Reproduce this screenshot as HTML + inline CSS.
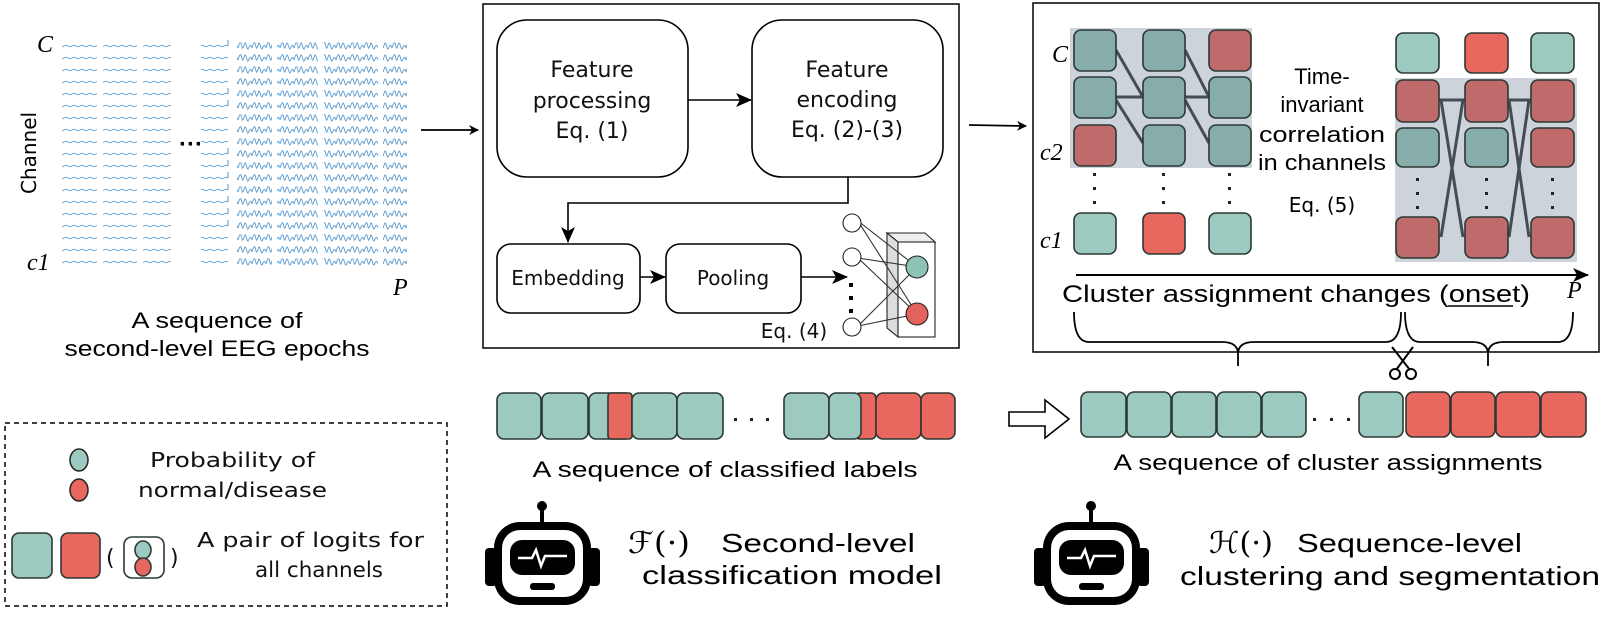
<!DOCTYPE html>
<html><head><meta charset="utf-8"><style>html,body{margin:0;padding:0;background:#fff}svg{display:block}</style></head>
<body>
<svg width="1604" height="617" viewBox="0 0 1604 617" xmlns="http://www.w3.org/2000/svg">
<defs>
<pattern id="q" patternUnits="userSpaceOnUse" x="0" y="40" width="8" height="12">
<path d="M0,6 Q2,4.8 4,6 T8,6" fill="none" stroke="#6aa8d8" stroke-width="1"/>
</pattern>
<pattern id="d" patternUnits="userSpaceOnUse" x="0" y="40" width="14" height="12">
<path d="M0,8 C2,1 3,1 4,7 C5,11 6,4 7,3 C8,2 9,10 10,9 C11,8 12,2 14,8" fill="none" stroke="#5b9bd0" stroke-width="0.9"/>
</pattern>
<marker id="ah" markerWidth="10" markerHeight="10" refX="9" refY="5" orient="auto" markerUnits="userSpaceOnUse">
<path d="M0,0 L10,5 L0,10 L3,5 Z" fill="#000"/>
</marker>
<marker id="ah2" markerWidth="16" markerHeight="14" refX="15" refY="7" orient="auto" markerUnits="userSpaceOnUse">
<path d="M0,0 L16,7 L0,14 L4,7 Z" fill="#000"/>
</marker>
</defs>

<g>
<rect x="62" y="40" width="35" height="228" fill="url(#q)"/>
<rect x="103" y="40" width="34" height="228" fill="url(#q)"/>
<rect x="143" y="40" width="28" height="228" fill="url(#q)"/>
<rect x="201" y="40" width="27" height="228" fill="url(#q)"/>
<rect x="237" y="40" width="35" height="228" fill="url(#d)"/>
<rect x="277" y="40" width="41" height="228" fill="url(#d)"/>
<rect x="324" y="40" width="54" height="228" fill="url(#d)"/>
<rect x="383" y="40" width="24" height="228" fill="url(#d)"/>
<path d="M228,46 v-6 M228,94 v-6 M228,106 v-6 M228,154 v-6 M228,166 v-6 M228,178 v-6 M228,190 v-6 M228,202 v-6 M228,214 v-6 M228,226 v-6" stroke="#6aa8d8" stroke-width="1.2"/>
<text x="179" y="152" font-family="Liberation Sans,sans-serif" font-size="24" font-weight="bold">···</text>
<text x="37" y="52" font-family="Liberation Serif,serif" font-style="italic" font-size="24">C</text>
<text x="27" y="270" font-family="Liberation Serif,serif" font-style="italic" font-size="24">c1</text>
<text x="393" y="295" font-family="Liberation Serif,serif" font-style="italic" font-size="24">P</text>
<text transform="translate(36,153) rotate(-90)" text-anchor="middle" font-family="DejaVu Sans,sans-serif" font-size="20">Channel</text>
<text x="217" y="328" text-anchor="middle" font-family="Liberation Sans,sans-serif" font-size="22" textLength="171" lengthAdjust="spacingAndGlyphs">A sequence of</text>
<text x="217" y="356" text-anchor="middle" font-family="Liberation Sans,sans-serif" font-size="22" textLength="305" lengthAdjust="spacingAndGlyphs">second-level EEG epochs</text>
</g>

<line x1="421" y1="130" x2="478" y2="130" stroke="#000" stroke-width="1.8" marker-end="url(#ah)"/>

<rect x="483" y="4" width="476" height="344" fill="none" stroke="#000" stroke-width="1.5"/>
<g font-family="DejaVu Sans,sans-serif" font-size="22" text-anchor="middle" fill="#111">
<rect x="497" y="20" width="191" height="157" rx="30" fill="#fff" stroke="#000" stroke-width="1.6"/>
<text x="592" y="77">Feature</text><text x="592" y="108">processing</text><text x="592" y="138">Eq. (1)</text>
<rect x="752" y="20" width="191" height="157" rx="30" fill="#fff" stroke="#000" stroke-width="1.6"/>
<text x="847" y="77">Feature</text><text x="847" y="107">encoding</text><text x="847" y="137">Eq. (2)-(3)</text>
<line x1="688" y1="100" x2="751" y2="100" stroke="#000" stroke-width="1.6" marker-end="url(#ah2)"/>
<path d="M848,177 V203 H568 V242" fill="none" stroke="#000" stroke-width="1.6" marker-end="url(#ah2)"/>
<rect x="497" y="244" width="143" height="69" rx="14" fill="#fff" stroke="#000" stroke-width="1.6"/>
<text x="568" y="285" font-size="20">Embedding</text>
<rect x="666" y="244" width="135" height="69" rx="14" fill="#fff" stroke="#000" stroke-width="1.6"/>
<text x="733" y="285" font-size="20">Pooling</text>
<line x1="640" y1="277" x2="665" y2="277" stroke="#000" stroke-width="1.6" marker-end="url(#ah2)"/>
<line x1="801" y1="277" x2="847" y2="277" stroke="#000" stroke-width="1.6" marker-end="url(#ah2)"/>
<text x="794" y="338" font-size="20">Eq. (4)</text>
</g>
<g stroke="#222" stroke-width="1.1">
<polygon points="887,233 925,233 935,242 898,242" fill="#eee"/>
<polygon points="887,233 898,242 898,337 887,328" fill="#ddd"/>
<rect x="898" y="242" width="37" height="95" fill="#fff"/>
<path d="M858,221 L917,267 M858,221 L917,314 M858,258 L917,267 M858,258 L917,314 M858,326 L917,267 M858,326 L917,314" fill="none" stroke="#333"/>
<circle cx="852" cy="223" r="9" fill="#fff"/>
<circle cx="852" cy="257" r="9" fill="#fff"/>
<circle cx="852" cy="327" r="9" fill="#fff"/>
<circle cx="917" cy="267" r="11" fill="#8fc2b7"/>
<circle cx="917" cy="314" r="11" fill="#e4625c"/>
</g>
<g fill="#000"><rect x="849" y="283" width="4" height="4"/><rect x="849" y="296" width="4" height="4"/><rect x="849" y="309" width="4" height="4"/></g>

<line x1="969" y1="125" x2="1026" y2="126" stroke="#000" stroke-width="1.8" marker-end="url(#ah)"/>

<rect x="1033" y="3" width="566" height="349" fill="none" stroke="#000" stroke-width="1.5"/>
<rect x="1070" y="28" width="182" height="140" fill="#cdd3da"/>
<rect x="1395" y="78" width="182" height="184" fill="#cdd3da"/>
<g stroke="#444c55" stroke-width="3" fill="none">
<path d="M1116,50 L1143,97 M1116,97 H1143 M1116,100 L1143,143 M1185,50 L1209,97 M1185,97 H1209 M1185,100 L1209,143"/>
<path d="M1439,100 H1465 M1508,100 H1531 M1441,100 L1463,237 M1441,237 L1463,100 M1509,100 L1529,237 M1509,237 L1529,100"/>
</g>
<g stroke="#2c3833" stroke-width="1.6">
<rect x="1074" y="30" width="42" height="41" rx="7" fill="#87adaa"/>
<rect x="1143" y="30" width="42" height="41" rx="7" fill="#87adaa"/>
<rect x="1209" y="30" width="42" height="41" rx="7" fill="#c06b6b"/>
<rect x="1074" y="77" width="42" height="41" rx="7" fill="#87adaa"/>
<rect x="1143" y="77" width="42" height="41" rx="7" fill="#87adaa"/>
<rect x="1209" y="77" width="42" height="41" rx="7" fill="#87adaa"/>
<rect x="1074" y="125" width="42" height="41" rx="7" fill="#c06b6b"/>
<rect x="1143" y="125" width="42" height="41" rx="7" fill="#87adaa"/>
<rect x="1209" y="125" width="42" height="41" rx="7" fill="#87adaa"/>
<rect x="1074" y="213" width="42" height="41" rx="7" fill="#9ccac1"/>
<rect x="1143" y="213" width="42" height="41" rx="7" fill="#e8675f"/>
<rect x="1209" y="213" width="42" height="41" rx="7" fill="#9ccac1"/>
<rect x="1396" y="33" width="43" height="40" rx="7" fill="#9ccac1"/>
<rect x="1465" y="33" width="43" height="40" rx="7" fill="#e8675f"/>
<rect x="1531" y="33" width="43" height="40" rx="7" fill="#9ccac1"/>
<rect x="1396" y="80" width="43" height="42" rx="7" fill="#c06b6b"/>
<rect x="1465" y="80" width="43" height="42" rx="7" fill="#c06b6b"/>
<rect x="1531" y="80" width="43" height="42" rx="7" fill="#c06b6b"/>
<rect x="1396" y="128" width="43" height="39" rx="7" fill="#87adaa"/>
<rect x="1465" y="128" width="43" height="39" rx="7" fill="#87adaa"/>
<rect x="1531" y="128" width="43" height="39" rx="7" fill="#c06b6b"/>
<rect x="1396" y="217" width="43" height="41" rx="7" fill="#c06b6b"/>
<rect x="1465" y="217" width="43" height="41" rx="7" fill="#c06b6b"/>
<rect x="1531" y="217" width="43" height="41" rx="7" fill="#c06b6b"/>
</g>
<g fill="#222">
<rect x="1093" y="173" width="3" height="3"/><rect x="1093" y="187" width="3" height="3"/><rect x="1093" y="201" width="3" height="3"/>
<rect x="1162" y="173" width="3" height="3"/><rect x="1162" y="187" width="3" height="3"/><rect x="1162" y="201" width="3" height="3"/>
<rect x="1228" y="173" width="3" height="3"/><rect x="1228" y="187" width="3" height="3"/><rect x="1228" y="201" width="3" height="3"/>
<rect x="1416" y="178" width="3" height="3"/><rect x="1416" y="192" width="3" height="3"/><rect x="1416" y="206" width="3" height="3"/>
<rect x="1485" y="178" width="3" height="3"/><rect x="1485" y="192" width="3" height="3"/><rect x="1485" y="206" width="3" height="3"/>
<rect x="1551" y="178" width="3" height="3"/><rect x="1551" y="192" width="3" height="3"/><rect x="1551" y="206" width="3" height="3"/>
</g>
<g font-family="Liberation Serif,serif" font-style="italic" font-size="24">
<text x="1052" y="62">C</text><text x="1040" y="160">c2</text><text x="1040" y="248">c1</text>
<text x="1567" y="298">P</text>
</g>
<g font-family="Liberation Sans,sans-serif" font-size="22" text-anchor="middle">
<text x="1322" y="84">Time-</text>
<text x="1322" y="112">invariant</text>
<text x="1322" y="142" textLength="126" lengthAdjust="spacingAndGlyphs">correlation</text>
<text x="1322" y="170" textLength="128" lengthAdjust="spacingAndGlyphs">in channels</text>
</g>
<text x="1322" y="212" text-anchor="middle" font-family="DejaVu Sans,sans-serif" font-size="20">Eq. (5)</text>
<line x1="1076" y1="275" x2="1588" y2="275" stroke="#000" stroke-width="2" marker-end="url(#ah2)"/>
<text x="1062" y="302" font-family="Liberation Sans,sans-serif" font-size="24" textLength="468" lengthAdjust="spacingAndGlyphs">Cluster assignment changes (onset)</text>
<line x1="1448" y1="306" x2="1513" y2="306" stroke="#000" stroke-width="1.6"/>
<g fill="none" stroke="#000" stroke-width="1.8">
<path d="M1074,312 q0,30 15,30 L1222,342 q16,0 16,12 q0,-12 16,-12 L1386,342 q15,0 15,-30 M1238,354 V366"/>
<path d="M1405,312 q0,30 15,30 L1472,342 q16,0 16,12 q0,-12 16,-12 L1558,342 q15,0 15,-30 M1488,354 V366"/>
<path d="M1392,347 L1410,370 M1413,347 L1396,370" stroke-width="2"/>
<circle cx="1395" cy="374" r="5" stroke-width="2"/><circle cx="1411" cy="374" r="5" stroke-width="2"/>
</g>

<g stroke="#2c3833" stroke-width="1.6">
<rect x="497" y="393" width="44" height="46" rx="7" fill="#9ccac1"/>
<rect x="542" y="393" width="46" height="46" rx="7" fill="#9ccac1"/>
<rect x="589" y="393" width="43" height="46" rx="7" fill="#9ccac1"/>
<rect x="608" y="393" width="24" height="46" rx="3" fill="#e8675f"/>
<rect x="632" y="393" width="45" height="46" rx="7" fill="#9ccac1"/>
<rect x="677" y="393" width="46" height="46" rx="7" fill="#9ccac1"/>
<rect x="784" y="393" width="45" height="46" rx="7" fill="#9ccac1"/>
<rect x="855" y="393" width="21" height="46" rx="5" fill="#e8675f"/>
<rect x="829" y="393" width="32" height="46" rx="7" fill="#9ccac1"/>
<rect x="876" y="393" width="45" height="46" rx="7" fill="#e8675f"/>
<rect x="921" y="393" width="34" height="46" rx="7" fill="#e8675f"/>
</g>
<g fill="#222"><rect x="734" y="418" width="3" height="3"/><rect x="750" y="418" width="3" height="3"/><rect x="766" y="418" width="3" height="3"/></g>
<text x="725" y="477" text-anchor="middle" font-family="Liberation Sans,sans-serif" font-size="22" textLength="385" lengthAdjust="spacingAndGlyphs">A sequence of classified labels</text>

<polygon points="1009,412 1045,412 1045,400 1069,419 1045,438 1045,426 1009,426" fill="#fff" stroke="#000" stroke-width="1.6"/>
<g stroke="#2c3833" stroke-width="1.6">
<rect x="1081" y="392" width="45" height="45" rx="7" fill="#9ccac1"/>
<rect x="1127" y="392" width="44" height="45" rx="7" fill="#9ccac1"/>
<rect x="1172" y="392" width="44" height="45" rx="7" fill="#9ccac1"/>
<rect x="1217" y="392" width="44" height="45" rx="7" fill="#9ccac1"/>
<rect x="1262" y="392" width="44" height="45" rx="7" fill="#9ccac1"/>
<rect x="1359" y="392" width="44" height="45" rx="7" fill="#9ccac1"/>
<rect x="1406" y="392" width="44" height="45" rx="7" fill="#e8675f"/>
<rect x="1451" y="392" width="44" height="45" rx="7" fill="#e8675f"/>
<rect x="1496" y="392" width="44" height="45" rx="7" fill="#e8675f"/>
<rect x="1541" y="392" width="45" height="45" rx="7" fill="#e8675f"/>
</g>
<g fill="#222"><rect x="1313" y="418" width="3" height="3"/><rect x="1330" y="418" width="3" height="3"/><rect x="1347" y="418" width="3" height="3"/></g>
<text x="1328" y="470" text-anchor="middle" font-family="Liberation Sans,sans-serif" font-size="22" textLength="429" lengthAdjust="spacingAndGlyphs">A sequence of cluster assignments</text>

<rect x="5" y="423" width="442" height="183" fill="none" stroke="#000" stroke-width="1.5" stroke-dasharray="5,4"/>
<ellipse cx="79" cy="460" rx="9" ry="11" fill="#9ccac1" stroke="#222" stroke-width="1.5"/>
<ellipse cx="79" cy="490" rx="9" ry="11" fill="#e8675f" stroke="#222" stroke-width="1.5"/>
<g font-family="DejaVu Sans,sans-serif" font-size="20" fill="#111">
<text x="150" y="467" textLength="165" lengthAdjust="spacingAndGlyphs">Probability of</text>
<text x="138" y="497" textLength="189" lengthAdjust="spacingAndGlyphs">normal/disease</text>
<text x="197" y="547" textLength="227" lengthAdjust="spacingAndGlyphs">A pair of logits for</text>
<text x="255" y="577" font-size="21" textLength="128" lengthAdjust="spacingAndGlyphs">all channels</text>
<text x="106" y="565" font-size="22">(</text>
<text x="170" y="565" font-size="22">)</text>
</g>
<g stroke="#2c3833" stroke-width="1.6">
<rect x="12" y="533" width="40" height="45" rx="7" fill="#9ccac1"/>
<rect x="61" y="533" width="39" height="45" rx="7" fill="#e8675f"/>
<rect x="124" y="537" width="40" height="41" rx="8" fill="#fff"/>
<ellipse cx="143" cy="550" rx="8" ry="9" fill="#9ccac1"/>
<ellipse cx="143" cy="567" rx="8" ry="9" fill="#e8675f"/>
</g>

<g id="r1">
<circle cx="542" cy="506" r="5" fill="#000"/>
<rect x="540" y="506" width="4" height="18" fill="#000"/>
<rect x="485" y="548" width="12" height="38" rx="4" fill="#000"/>
<rect x="588" y="548" width="12" height="38" rx="4" fill="#000"/>
<rect x="494" y="522" width="97" height="83" rx="26" fill="#000"/>
<rect x="502" y="530" width="81" height="67" rx="18" fill="#fff"/>
<rect x="510" y="540" width="65" height="35" rx="12" fill="#000"/>
<path d="M518,558 H532 L536,550 L541,566 L545,556 H567" fill="none" stroke="#fff" stroke-width="2.5"/>
<rect x="530" y="583" width="25" height="7" rx="3" fill="#000"/>
</g>
<use href="#r1" transform="translate(549,0)"/>

<g font-family="DejaVu Serif,Liberation Serif,serif" font-size="30"><text x="628" y="553" textLength="62" lengthAdjust="spacingAndGlyphs">ℱ(·)</text><text x="1209" y="553" textLength="64" lengthAdjust="spacingAndGlyphs">ℋ(·)</text></g>
<g font-family="Liberation Sans,sans-serif" font-size="26">
<text x="721" y="552" textLength="194" lengthAdjust="spacingAndGlyphs">Second-level</text>
<text x="642" y="584" textLength="300" lengthAdjust="spacingAndGlyphs">classification model</text>
<text x="1297" y="552" textLength="225" lengthAdjust="spacingAndGlyphs">Sequence-level</text>
<text x="1180" y="585" textLength="420" lengthAdjust="spacingAndGlyphs">clustering and segmentation</text>
</g>
</svg>
</body></html>
